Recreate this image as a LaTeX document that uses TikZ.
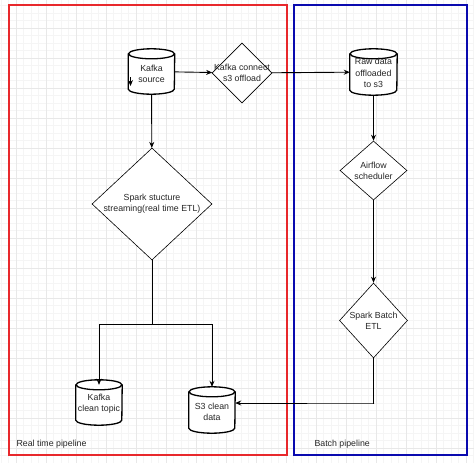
\documentclass[tikz,border=0pt]{standalone}
\usepackage{fontspec}
\setmainfont{Liberation Sans}
\usetikzlibrary{shapes.geometric,arrows.meta}
\definecolor{framered}{RGB}{232,40,44}
\definecolor{frameblue}{RGB}{10,10,175}
\tikzset{
  every label/.style={align=center,text=black!85,font=\fontsize{8.8}{11.2}\selectfont},
  db/.style={inner sep=0pt,minimum width=46pt,minimum height=45pt},
  dbline/.style={line width=1.3pt,fill=white},
  dec/.style={draw,diamond,line width=0.6pt,inner sep=0pt,fill=white},
  flow/.style={line width=0.9pt,-{Stealth[length=6pt,width=5pt]}},
  minorgrid/.style={gray!8,line width=0.4pt},
  majorgrid/.style={gray!18,line width=0.6pt}
}
\newcommand{\dbdraw}[2]{%
  \draw[dbline] ([yshift=-5pt]#1.north west) -- ([yshift=5pt]#1.south west)
    arc[start angle=180,end angle=360,x radius=#2,y radius=5pt] -- ([yshift=-5pt]#1.north east);
  \draw[dbline] ([yshift=-5pt]#1.north) ellipse[x radius=#2,y radius=5pt];
}
\begin{document}
\begin{tikzpicture}[x=1pt,y=-1pt]
                \useasboundingbox (0,0) rectangle (474,463);
                \fill[white] (0,0) rectangle (474,463);
                \foreach \i in {0,...,63} \draw[minorgrid] (1+7.5*\i,0) -- (1+7.5*\i,463);
                \foreach \i in {0,...,60} \draw[minorgrid] (0,5.5+7.5*\i) -- (474,5.5+7.5*\i);
                \foreach \i in {0,...,15} \draw[majorgrid] (16+30*\i,0) -- (16+30*\i,463);
                \foreach \i in {0,...,14} \draw[majorgrid] (0,28+30*\i) -- (474,28+30*\i);

                \draw[framered,line width=2pt] (9,5) rectangle (287,455);
                \draw[frameblue,line width=2pt] (294,5) rectangle (466.5,455);
                \node[anchor=west,text=black!85,font=\fontsize{8.8}{11.2}\selectfont] (R) at (13,444) {Real time pipeline};
                \node[anchor=west,text=black!85,font=\fontsize{8.8}{11.2}\selectfont] (T) at (311,444) {Batch pipeline};

                \node[db] (A) at (151.5,71.5) {};
                \node[dec,minimum width=60pt,minimum height=60pt,label=center:{Kafka connect\\s3 offload}] (B) at (242,73) {};
                \node[db,minimum width=47pt,minimum height=46pt] (C) at (373.5,72) {};
                \node[dec,minimum width=67pt,minimum height=59pt,label=center:{Airflow\\scheduler}] (D) at (373.5,170.5) {};
                \node[dec,minimum width=68pt,minimum height=75pt,label=center:{Spark Batch\\ETL}] (E) at (373.5,320.5) {};
                \node[dec,minimum width=120pt,minimum height=112pt,label=center:{Spark stucture\\streaming(real time ETL)}] (F) at (152,204) {};
                \node[db] (G) at (99,402.5) {};
                \node[db,minimum height=46pt] (H) at (212,410) {};

                \dbdraw{A}{23pt}
                \dbdraw{C}{23.5pt}
                \dbdraw{G}{23pt}
                \dbdraw{H}{23pt}
                \node[label={[yshift=-2.5pt]center:Kafka\\source}] (A1) at (A) {};
                \node[label={[yshift=-1pt]center:Raw data\\offloaded\\to s3}] (C1) at (C) {};
                \node[label={[yshift=-1pt]center:Kafka\\clean topic}] (G1) at (G) {};
                \node[label={[yshift=-1.5pt]center:S3 clean\\data}] (H1) at (H) {};

                \coordinate (J) at (152,324);
                \coordinate (K) at (374,403);
                \coordinate (L) at (130.5,77);

                \draw[flow] (A) -- (B);
                \draw[flow] (B) -- (C);
                \draw[flow] (C) -- (D);
                \draw[flow] (D) -- (E);
                \draw[flow] (A) -- (F);
                \draw[line width=0.9pt] (F) -- (J);
                \draw[flow] (J) -| ([yshift=-5pt]G.north);
                \draw[flow] (J) -| (H);
                \draw[flow] (E.south) |- (K) -- (H.east |- K);
                \draw[flow] (L) -- ++(0,9);
            \end{tikzpicture}
\end{document}
